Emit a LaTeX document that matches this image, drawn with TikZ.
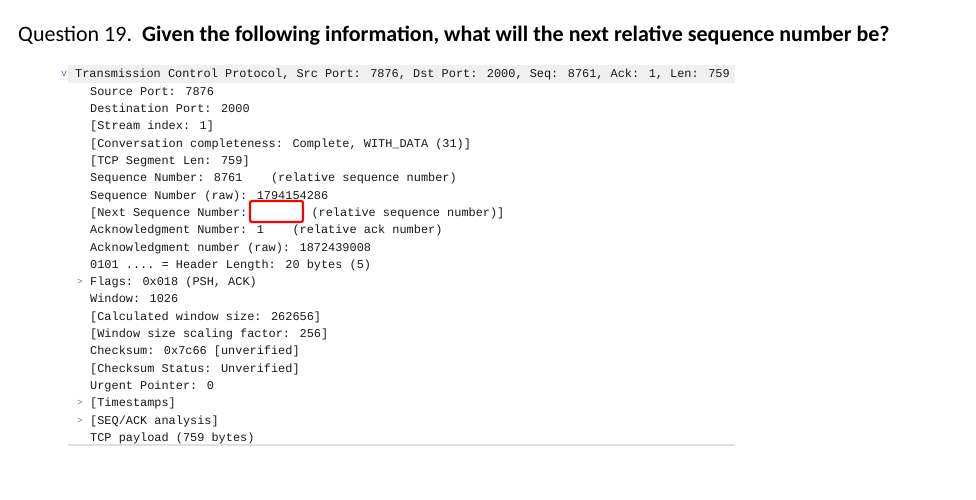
\documentclass[tikz,border=0pt]{standalone}
\usepackage{fontspec}
\setmainfont{Carlito}
\newfontfamily\wsmono{Liberation Mono}
\newcommand\fourdots{.{}.{}.{}.}
\begin{document}
\begin{tikzpicture}[x=1pt,y=-1pt,
  ln/.style={anchor=base west,inner sep=0pt,font=\wsmono\fontsize{11.9}{12}\selectfont,text=black!90},
  arr/.style={anchor=base west,inner sep=0pt,font=\wsmono\fontsize{9}{10}\selectfont,text=black!55}]
\useasboundingbox (0,0) rectangle (976,500);
\fill[black!6] (68,65) rectangle (735,83);
\draw[black!12,line width=1.2pt] (68,445) -- (735,445);
\node[anchor=base west,inner sep=0pt,font=\fontsize{22}{24}\selectfont] (q) at (18,42) {Question 19.\ \ \textbf{Given the following information, what will the next relative sequence number be?}};
\node[anchor=base west,inner sep=0pt,font=\wsmono\fontsize{10}{10}\selectfont,text=blue!50!black!60] (chev) at (61,77) {v};
\node[ln] (l0) at (75,78) {Transmission Control Protocol, Src Port: 7876, Dst Port: 2000, Seq: 8761, Ack: 1, Len: 759};
\foreach \t [count=\i] in {
 {Source Port: 7876},
 {Destination Port: 2000},
 {[Stream index: 1]},
 {[Conversation completeness: Complete, WITH\_DATA (31)]},
 {[TCP Segment Len: 759]},
 {Sequence Number: 8761\ \ \ \ (relative sequence number)},
 {Sequence Number (raw): 1794154286},
 {[Next Sequence Number:\ \ \ \ \ \ \ \ \ (relative sequence number)]},
 {Acknowledgment Number: 1\ \ \ \ (relative ack number)},
 {Acknowledgment number (raw): 1872439008},
 {0101 \fourdots\ = Header Length: 20 bytes (5)},
 {Flags: 0x018 (PSH, ACK)},
 {Window: 1026},
 {[Calculated window size: 262656]},
 {[Window size scaling factor: 256]},
 {Checksum: 0x7c66 [unverified]},
 {[Checksum Status: Unverified]},
 {Urgent Pointer: 0},
 {[Timestamps]},
 {[SEQ/ACK analysis]},
 {TCP payload (759 bytes)}}
 \node[ln] (l\i) at (90,{78+17.3*\i}) {\t};
\foreach \i in {12,19,20}
 \node[arr] (a\i) at (77,{77+17.3*\i}) {>};
\draw[red,line width=2.2pt,rounded corners=2pt] (250,201) rectangle (303,222);
\end{tikzpicture}
\end{document}
